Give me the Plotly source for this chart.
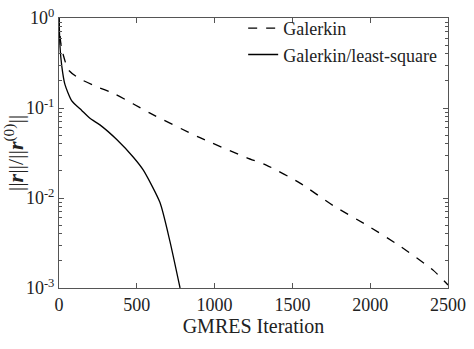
import plotly.graph_objects as go

galerkin_iter = [0, 3, 10, 28, 60, 124, 231, 360, 478, 585, 906, 1208, 1335, 1549, 1763, 1977, 2192, 2406, 2500]
galerkin_res = [1.0, 0.80, 0.55, 0.386, 0.266, 0.216, 0.176, 0.143, 0.111, 0.0877, 0.0468, 0.028, 0.0231, 0.01466, 0.00822, 0.00501, 0.00292, 0.00157, 0.00108]

gls_iter = [0, 2, 6, 17, 38, 81, 146, 199, 263, 371, 478, 542, 649, 713, 778]
gls_res = [1.0, 0.80, 0.495, 0.30, 0.183, 0.121, 0.094, 0.0768, 0.065, 0.0447, 0.0284, 0.0204, 0.0089, 0.0033, 0.001]

x_ticks = [0, 500, 1000, 1500, 2000, 2500]
y_ticks = [1e-3, 1e-2, 1e-1, 1]
y_ticktext = ["10<sup>-3</sup>", "10<sup>-2</sup>", "10<sup>-1</sup>", "10<sup>0</sup>"]
y_minor = [k * 10.0 ** e for e in (-3, -2, -1) for k in range(2, 10)]

font = "Liberation Serif"
axcol = "#555555"

fig = go.Figure()
fig.add_trace(go.Scatter(x=galerkin_iter, y=galerkin_res, mode="lines",
                         name="Galerkin", line=dict(color="black", width=1.3, dash="dash", shape="spline", smoothing=0.6)))
fig.add_trace(go.Scatter(x=gls_iter, y=gls_res, mode="lines",
                         name="Galerkin/least-square", line=dict(color="black", width=1.3, shape="spline", smoothing=0.6)))

fig.update_layout(
    template="none",
    width=474, height=349,
    margin=dict(l=59, r=26, t=10, b=61),
    paper_bgcolor="white", plot_bgcolor="white",
    font=dict(family=font, size=16, color="#222"),
    showlegend=True,
    legend=dict(x=0.985, y=1.03, xanchor="right", yanchor="top",
                bgcolor="rgba(0,0,0,0)", font=dict(size=18, family=font),
                tracegroupgap=0, itemwidth=30),
    xaxis=dict(range=[0, 2500], tickvals=x_ticks, ticks="inside", ticklen=5,
               showline=True, linecolor=axcol, linewidth=1, mirror="allticks",
               tickcolor=axcol, showgrid=False, zeroline=False,
               title=dict(text="GMRES Iteration", font=dict(size=20, family=font), standoff=2),
               tickfont=dict(size=18, family=font)),
    yaxis=dict(type="log", range=[-3, 0.0005], tickvals=y_ticks, ticktext=y_ticktext,
               ticks="inside", ticklen=5, showline=True, linecolor=axcol, linewidth=1,
               mirror="allticks", tickcolor=axcol, showgrid=False, zeroline=False,
               ticklabeloverflow="allow",
               minor=dict(tickvals=y_minor, ticks="inside", ticklen=3, tickcolor=axcol),
               title=dict(text="||<b><i>r</i></b>||/||<b><i>r</i></b><sup>(0)</sup>||",
                          font=dict(size=22, family=font), standoff=2),
               tickfont=dict(size=18, family=font)),
)
fig.write_html("out.html")
